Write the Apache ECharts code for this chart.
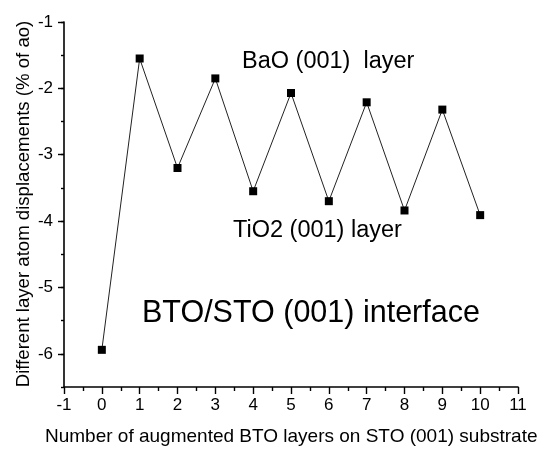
<!DOCTYPE html>
<html>
<head>
<meta charset="utf-8">
<script src="https://cdn.jsdelivr.net/npm/echarts@6/dist/echarts.min.js"></script>
<style>
  html, body { margin: 0; padding: 0; background: #fff; }
  #main { width: 550px; height: 457px; }
</style>
</head>
<body>
<div id="main"></div>
<script>
// layer index and displacement (% of ao)
var layers = [0, 1, 2, 3, 4, 5, 6, 7, 8, 9, 10];
var displacement = [-5.94, -1.55, -3.20, -1.85, -3.55, -2.07, -3.70, -2.21, -3.84, -2.32, -3.91];
var yTickLabels = [-6, -5, -4, -3, -2, -1];

var font = '"Liberation Sans", Arial, sans-serif';
var chart = echarts.init(document.getElementById('main'));

chart.setOption({
    animation: false,
    grid: { left: 64, right: 32, top: 22, bottom: 70 },
    xAxis: {
        type: 'value',
        min: -1,
        max: 11,
        interval: 1,
        axisLine: { onZero: false, lineStyle: { color: '#000', width: 1.6 } },
        axisTick: { inside: false, length: 7, lineStyle: { color: '#000', width: 1.4 } },
        minorTick: { show: true, splitNumber: 2, length: 4, lineStyle: { color: '#000', width: 1.4 } },
        splitLine: { show: false },
        axisLabel: { color: '#000', fontFamily: font, fontSize: 17, margin: 10 }
    },
    yAxis: [{
        type: 'value',
        min: -6.5,
        max: -1,
        interval: 0.5,
        axisLine: { show: true, onZero: false, lineStyle: { color: '#000', width: 1.6 } },
        axisTick: { show: true, length: 3, lineStyle: { color: '#000', width: 1.4 } },
        splitLine: { show: false },
        axisLabel: {
            color: '#000', fontFamily: font, fontSize: 17, margin: 11,
            customValues: yTickLabels
        }
    }, {
        // longer ticks at whole numbers
        type: 'value',
        min: -6.5,
        max: -1,
        position: 'left',
        axisLine: { show: false, onZero: false },
        axisTick: { show: true, length: 6, customValues: yTickLabels, lineStyle: { color: '#000', width: 1.4 } },
        axisLabel: { show: false },
        splitLine: { show: false }
    }],
    series: [{
        type: 'line',
        data: layers.map(function (x, i) { return [x, displacement[i]]; }),
        symbol: 'rect',
        symbolSize: 8,
        itemStyle: { color: '#000' },
        lineStyle: { color: '#222', width: 1 }
    }],
    graphic: [
        { type: 'text', x: 242, y: 62, style: { text: 'BaO (001)  layer', font: '23.5px ' + font, fill: '#000', verticalAlign: 'middle' } },
        { type: 'text', x: 233, y: 231, style: { text: 'TiO2 (001) layer', font: '23.5px ' + font, fill: '#000', verticalAlign: 'middle' } },
        { type: 'text', x: 142, y: 314, style: { text: 'BTO/STO (001) interface', font: '30.5px ' + font, fill: '#000', verticalAlign: 'middle' } },
        { type: 'text', x: 45, y: 437, style: { text: 'Number of augmented BTO layers on STO (001) substrate', font: '19px ' + font, fill: '#000', verticalAlign: 'middle' } },
        {
            type: 'text', x: 24, y: 204, rotation: Math.PI / 2,
            style: { text: 'Different layer atom displacements (% of ao)', font: '18.6px ' + font, fill: '#000', align: 'center', verticalAlign: 'middle' }
        }
    ]
});
</script>
</body>
</html>
